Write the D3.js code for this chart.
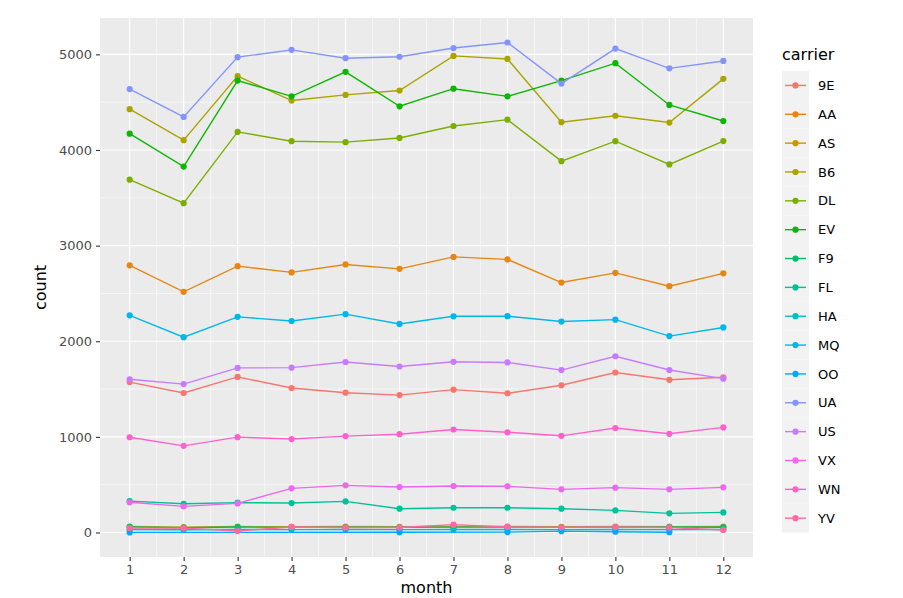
<!DOCTYPE html>
<html>
<head>
<meta charset="utf-8">
<script src="https://cdn.jsdelivr.net/npm/d3@7"></script>
<style>
  body { margin: 0; background: #fff; }
  text { font-family: "DejaVu Sans", sans-serif; }
</style>
</head>
<body>
<svg id="chart"></svg>
<script>
// monthly flight counts per carrier
var months = [1, 2, 3, 4, 5, 6, 7, 8, 9, 10, 11, 12];
var carriers = ["9E", "AA", "AS", "B6", "DL", "EV", "F9", "FL", "HA", "MQ", "OO", "UA", "US", "VX", "WN", "YV"];

var c9E = [1573, 1459, 1627, 1511, 1462, 1437, 1494, 1456, 1540, 1673, 1597, 1623];
var cAA = [2794, 2517, 2785, 2720, 2803, 2757, 2882, 2856, 2614, 2715, 2576, 2710];
var cAS = [62, 56, 62, 60, 62, 60, 62, 62, 60, 62, 60, 62];
var cB6 = [4427, 4103, 4772, 4517, 4576, 4622, 4984, 4952, 4291, 4358, 4287, 4744];
var cDL = [3690, 3444, 4189, 4092, 4082, 4126, 4251, 4317, 3883, 4092, 3849, 4093];
var cEV = [4171, 3827, 4726, 4561, 4817, 4457, 4641, 4561, 4725, 4908, 4471, 4303];
var cF9 = [59, 50, 57, 54, 55, 55, 56, 56, 54, 56, 58, 55];
var cFL = [328, 300, 312, 308, 325, 249, 259, 259, 249, 231, 200, 210];
var cHA = [31, 28, 31, 30, 31, 30, 31, 31, 30, 31, 30, 31];
var cMQ = [2271, 2043, 2255, 2211, 2283, 2181, 2261, 2262, 2206, 2226, 2054, 2144];
var ooMonths = [1, 6, 8, 9, 10, 11];
var cOO = [1, 2, 4, 14, 8, 3];
var cUA = [4637, 4346, 4971, 5047, 4960, 4975, 5066, 5124, 4694, 5060, 4854, 4931];
var cUS = [1602, 1552, 1721, 1724, 1783, 1736, 1785, 1778, 1698, 1843, 1699, 1609];
var cVX = [316, 273, 304, 462, 493, 476, 486, 483, 451, 469, 451, 472];
var cWN = [996, 906, 997, 977, 1008, 1028, 1077, 1048, 1011, 1093, 1032, 1099];
var cYV = [46, 46, 15, 58, 52, 53, 82, 58, 55, 57, 53, 26];

var yTicks = [0, 1000, 2000, 3000, 4000, 5000];

var palette = ["#F8766D", "#E68613", "#CD9600", "#ABA300", "#7CAE00", "#0CB702", "#00BE67", "#00C19A",
               "#00BFC4", "#00B8E7", "#00A9FF", "#8494FF", "#C77CFF", "#ED68ED", "#FF61CC", "#FF68A1"];

var seriesValues = [c9E, cAA, cAS, cB6, cDL, cEV, cF9, cFL, cHA, cMQ, cOO, cUA, cUS, cVX, cWN, cYV];
var series = carriers.map(function(c, i) {
    var ms = c === "OO" ? ooMonths : months;
    return { carrier: c, points: seriesValues[i].map(function(v, j) { return { month: ms[j], count: v }; }) };
});

var W = 903, H = 598;
var panel = { left: 100, right: 753, top: 18, bottom: 557 };

var svg = d3.select("#chart").attr("width", W).attr("height", H);

var x = d3.scaleLinear()
    .domain([1 - 0.55, 12 + 0.55])
    .range([panel.left, panel.right]);

var maxCount = d3.max(series, function(s) { return d3.max(s.points, function(p) { return p.count; }); });
var y = d3.scaleLinear()
    .domain([0 - maxCount * 0.05, maxCount * 1.05])
    .range([panel.bottom, panel.top]);

var color = d3.scaleOrdinal().domain(carriers).range(palette);

svg.append("rect")
    .attr("x", panel.left).attr("y", panel.top)
    .attr("width", panel.right - panel.left).attr("height", panel.bottom - panel.top)
    .attr("fill", "#EBEBEB");

var grid = svg.append("g");
// minor grid
d3.range(500, 5500, 1000).forEach(function(v) {
    grid.append("line").attr("x1", panel.left).attr("x2", panel.right)
        .attr("y1", y(v)).attr("y2", y(v)).attr("stroke", "#fff").attr("stroke-width", 0.55);
});
d3.range(1.5, 12, 1).forEach(function(v) {
    grid.append("line").attr("y1", panel.top).attr("y2", panel.bottom)
        .attr("x1", x(v)).attr("x2", x(v)).attr("stroke", "#fff").attr("stroke-width", 0.55);
});
// major grid
yTicks.forEach(function(v) {
    grid.append("line").attr("x1", panel.left).attr("x2", panel.right)
        .attr("y1", y(v)).attr("y2", y(v)).attr("stroke", "#fff").attr("stroke-width", 1.1);
});
months.forEach(function(v) {
    grid.append("line").attr("y1", panel.top).attr("y2", panel.bottom)
        .attr("x1", x(v)).attr("x2", x(v)).attr("stroke", "#fff").attr("stroke-width", 1.1);
});

var line = d3.line()
    .x(function(d) { return x(d.month); })
    .y(function(d) { return y(d.count); });

var groups = svg.append("g").selectAll("g")
    .data(series)
    .enter().append("g");

groups.append("path")
    .attr("d", function(d) { return line(d.points); })
    .attr("fill", "none")
    .attr("stroke", function(d) { return color(d.carrier); })
    .attr("stroke-width", 1.4);

groups.selectAll("circle")
    .data(function(d) { return d.points.map(function(p) { return { carrier: d.carrier, month: p.month, count: p.count }; }); })
    .enter().append("circle")
    .attr("cx", function(d) { return x(d.month); })
    .attr("cy", function(d) { return y(d.count); })
    .attr("r", 3.1)
    .attr("fill", function(d) { return color(d.carrier); });

// axes
var xAxis = svg.append("g")
    .attr("transform", "translate(0," + panel.bottom + ")")
    .call(d3.axisBottom(x).tickValues(months).tickSize(4).tickPadding(4));
var yAxis = svg.append("g")
    .attr("transform", "translate(" + panel.left + ",0)")
    .call(d3.axisLeft(y).tickValues(yTicks).tickFormat(d3.format("d")).tickSize(4).tickPadding(4));

[xAxis, yAxis].forEach(function(a) {
    a.select(".domain").remove();
    a.selectAll(".tick line").attr("stroke", "#333333").attr("stroke-width", 1.1);
    a.selectAll(".tick text").attr("fill", "#4D4D4D").style("font-size", "13px");
});

svg.append("text")
    .attr("x", (panel.left + panel.right) / 2).attr("y", 593)
    .attr("text-anchor", "middle").style("font-size", "16px").attr("fill", "#000")
    .text("month");

svg.append("text")
    .attr("transform", "translate(46," + (panel.top + panel.bottom) / 2 + ") rotate(-90)")
    .attr("text-anchor", "middle").style("font-size", "16px").attr("fill", "#000")
    .text("count");

// legend
var legend = svg.append("g").attr("transform", "translate(782,71)");
legend.append("text")
    .attr("x", 0).attr("y", -11)
    .style("font-size", "16px").attr("fill", "#000")
    .text("carrier");

var keyH = 28.85;
var keys = legend.selectAll("g.key")
    .data(carriers)
    .enter().append("g")
    .attr("class", "key")
    .attr("transform", function(d, i) { return "translate(0," + i * keyH + ")"; });

keys.append("rect")
    .attr("width", 27).attr("height", keyH)
    .attr("fill", "#F2F2F2");
keys.append("line")
    .attr("x1", 3).attr("x2", 24)
    .attr("y1", keyH / 2).attr("y2", keyH / 2)
    .attr("stroke", function(d) { return color(d); })
    .attr("stroke-width", 1.4);
keys.append("circle")
    .attr("cx", 13.5).attr("cy", keyH / 2).attr("r", 3.1)
    .attr("fill", function(d) { return color(d); });
keys.append("text")
    .attr("x", 36).attr("y", keyH / 2).attr("dy", "0.36em")
    .style("font-size", "13px").attr("fill", "#000")
    .text(function(d) { return d; });
</script>
</body>
</html>
